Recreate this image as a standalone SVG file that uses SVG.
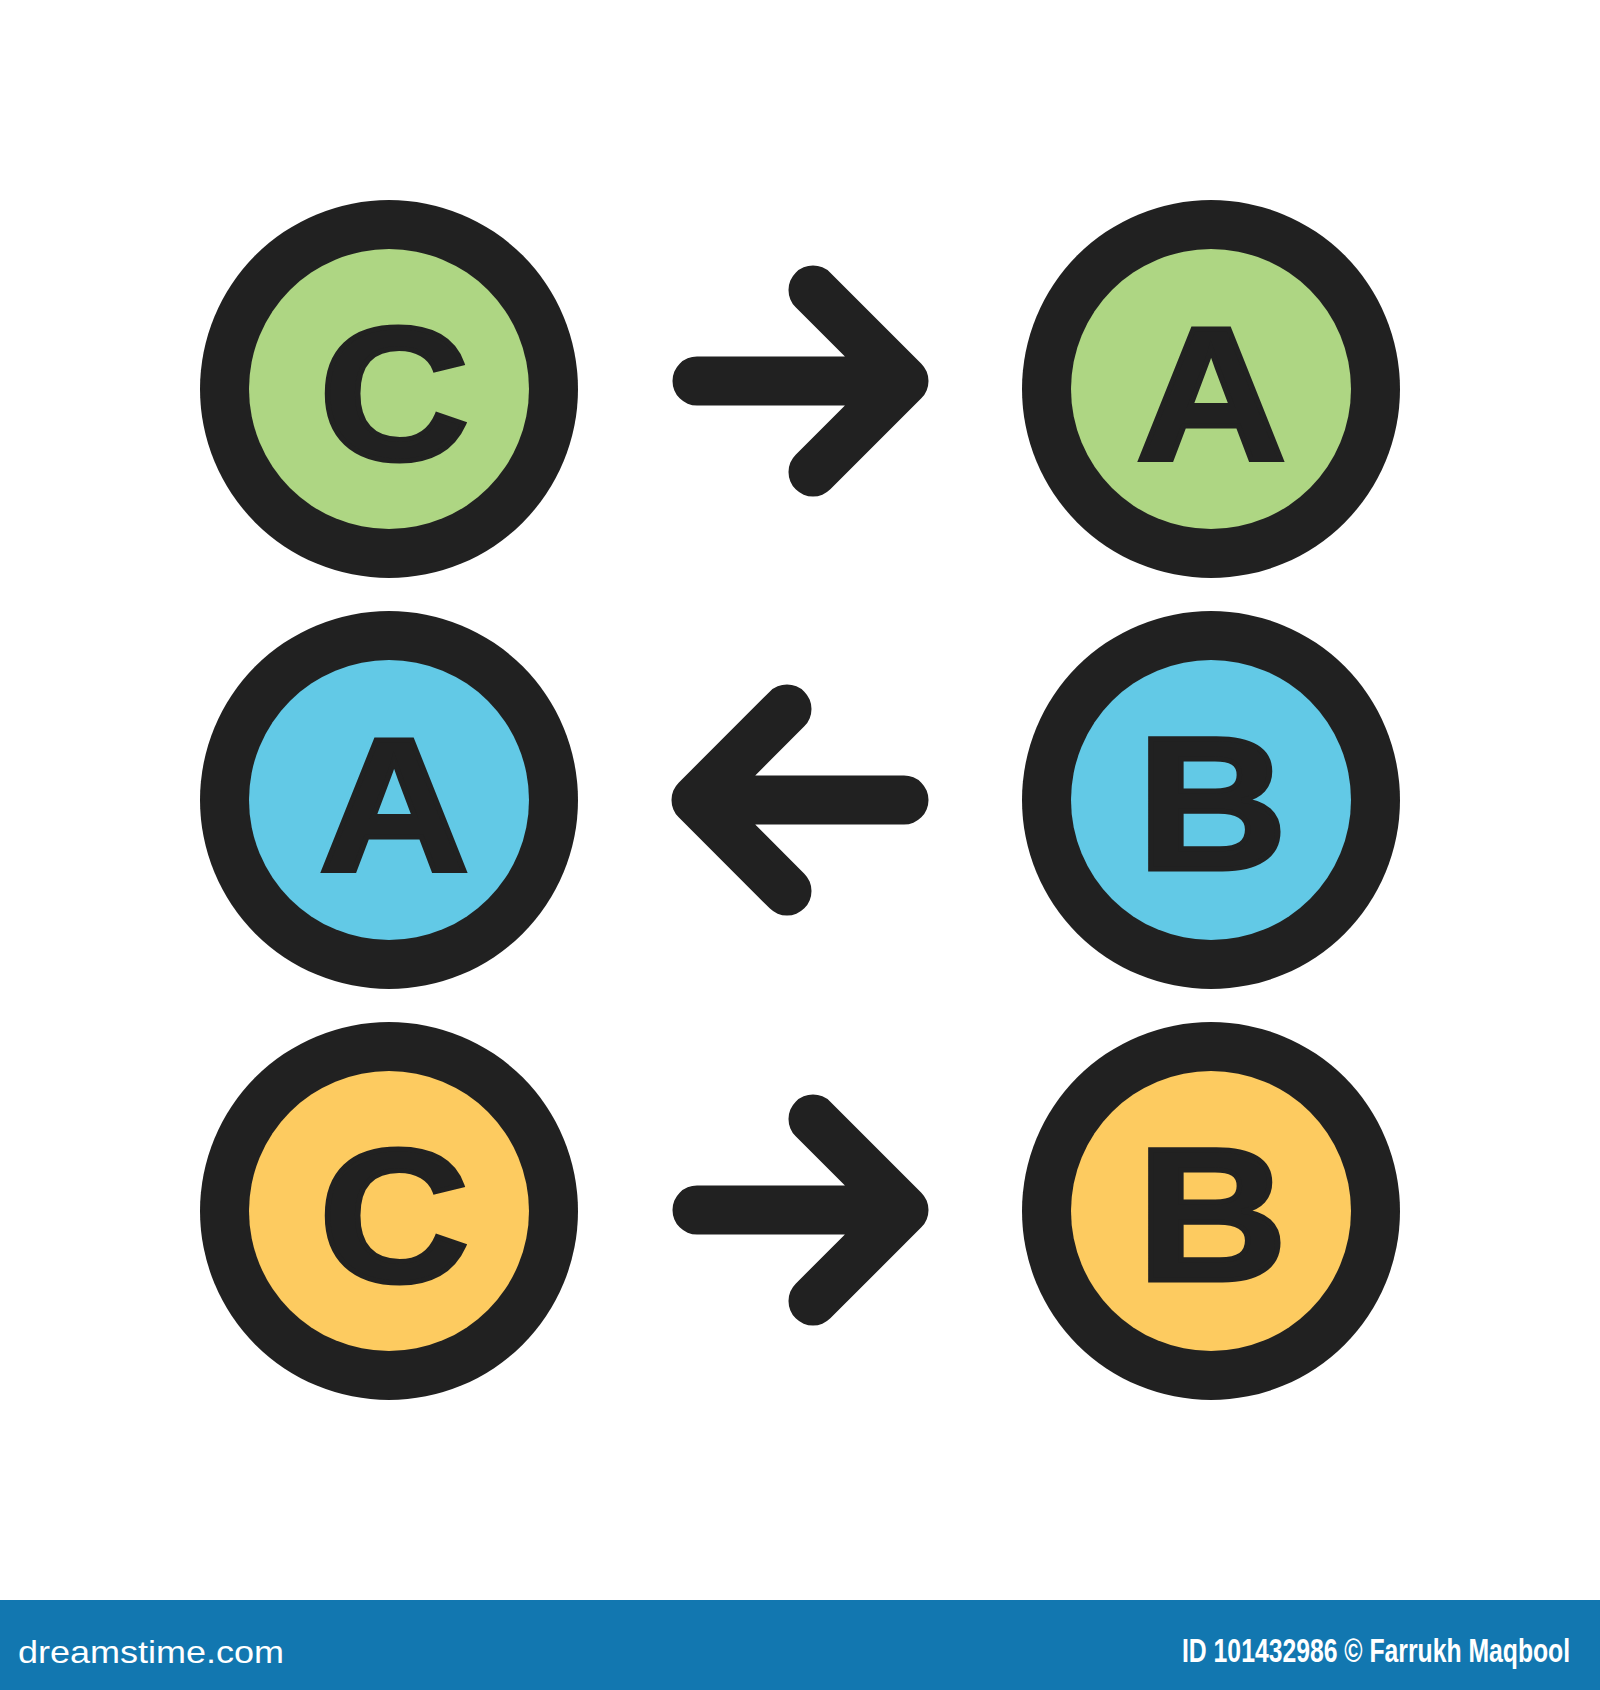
<svg xmlns="http://www.w3.org/2000/svg" width="1600" height="1690" viewBox="0 0 1600 1690">
<defs>
<style>
.ring{fill:#212121}
.g{fill:#aed683}
.b{fill:#62c9e6}
.y{fill:#fdcb60}
.lt{font-family:"Liberation Sans",Arial,sans-serif;font-weight:bold;font-size:189px;fill:#212121;stroke:#212121;stroke-width:5;stroke-linejoin:miter;text-anchor:middle}
.arr{fill:none;stroke:#212121;stroke-width:49;stroke-linecap:round;stroke-linejoin:round}
.foot{font-family:"Liberation Sans",Arial,sans-serif;fill:#ffffff}
</style>
</defs>
<rect x="0" y="0" width="1600" height="1690" fill="#ffffff"/>

<g id="node-c1">
<circle class="ring" cx="389" cy="389" r="189"/>
<circle class="g" cx="389" cy="389" r="140"/>
<text class="lt" transform="translate(394,459) scale(1.1,1)" x="0" y="0">C</text>
</g>
<g id="node-a1">
<circle class="ring" cx="1211" cy="389" r="189"/>
<circle class="g" cx="1211" cy="389" r="140"/>
<text class="lt" transform="translate(1211,459) scale(1.1,1)" x="0" y="0">A</text>
</g>
<g id="node-a2">
<circle class="ring" cx="389" cy="800" r="189"/>
<circle class="b" cx="389" cy="800" r="140"/>
<text class="lt" transform="translate(394,870) scale(1.1,1)" x="0" y="0">A</text>
</g>
<g id="node-b2">
<circle class="ring" cx="1211" cy="800" r="189"/>
<circle class="b" cx="1211" cy="800" r="140"/>
<text class="lt" transform="translate(1212,869) scale(1.1,1)" x="0" y="0">B</text>
</g>
<g id="node-c3">
<circle class="ring" cx="389" cy="1211" r="189"/>
<circle class="y" cx="389" cy="1211" r="140"/>
<text class="lt" transform="translate(394,1281) scale(1.1,1)" x="0" y="0">C</text>
</g>
<g id="node-b3">
<circle class="ring" cx="1211" cy="1211" r="189"/>
<circle class="y" cx="1211" cy="1211" r="140"/>
<text class="lt" transform="translate(1212,1280) scale(1.1,1)" x="0" y="0">B</text>
</g>

<g id="connectors">
<path class="arr" d="M697 381 H904 M813 290 L904 381 L813 472"/>
<path class="arr" d="M904 800 H696 M787 709 L696 800 L787 891"/>
<path class="arr" d="M697 1210 H904 M813 1119 L904 1210 L813 1301"/>
</g>

<g id="footer">
<rect x="0" y="1600" width="1600" height="90" fill="#1277b0"/>
<text class="foot" x="18" y="1663" font-size="32" textLength="266" lengthAdjust="spacingAndGlyphs">dreamstime.com</text>
<text class="foot" transform="translate(1182,1662) scale(0.75,1)" x="0" y="0" font-size="33" font-weight="bold">ID 101432986 © Farrukh Maqbool</text>
</g>
</svg>
